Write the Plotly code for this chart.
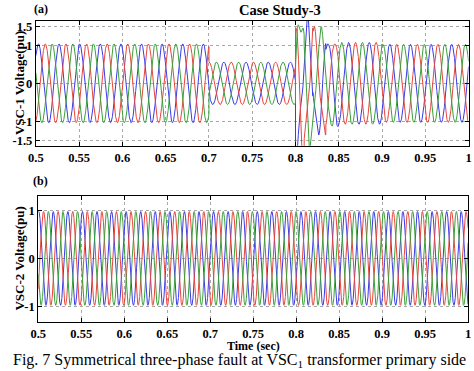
import numpy as np
import plotly.graph_objects as go

# ---------------- data ----------------
# Panel (a): VSC-1 voltage, piecewise segments (start time, amplitude pu, frequency Hz,
# distortion amplitude, phase jump at segment start in rad)
a_seg_start = [0.50, 0.70, 0.80, 0.81, 0.82, 0.835, 0.85, 0.90]
a_seg_amp   = [1.04, 0.56, 1.85, 1.50, 1.30, 1.12, 1.08, 1.03]
a_seg_freq  = [42.0, 39.0, 42.0, 42.0, 42.0, 42.0, 42.0, 42.0]
a_seg_dist  = [0.00, 0.00, 0.50, 0.35, 0.20, 0.08, 0.00, 0.00]
a_seg_jump  = [0.00, 0.35, 1.20, 0.00, 0.00, 0.00, 0.00, 0.00]
a_first_peak = 0.503   # time of first blue peak

# Panel (b): VSC-2 voltage
b_seg_start = [0.50]
b_seg_amp   = [0.975]
b_seg_freq  = [59.0]
b_seg_dist  = [0.0]
b_seg_jump  = [0.0]
b_first_peak = 0.5005

phase_names  = ["Phase A", "Phase B", "Phase C"]
phase_shift  = [0.0, -2 * np.pi / 3, -4 * np.pi / 3]
phase_colors = ["#3b3be6", "#e8453c", "#3aa03a"]

x_ticks = [0.5, 0.55, 0.6, 0.65, 0.7, 0.75, 0.8, 0.85, 0.9, 0.95, 1.0]
x_tick_text = ["0.5", "0.55", "0.6", "0.65", "0.7", "0.75", "0.8", "0.85", "0.9", "0.95", "1"]
ya_ticks = [-1.5, -1, 0, 1, 1.5]
ya_tick_text = ["-1.5", "-1", "0", "1", "1.5"]
yb_ticks = [-1, 0, 1]
yb_tick_text = ["-1", "0", "1"]

t = np.arange(0.5, 1.0 + 1e-9, 0.0001)


def synth(starts, amps, freqs, dists, jumps, first_peak):
    starts = np.array(starts)
    idx = np.searchsorted(starts, t, side="right") - 1
    f = np.array(freqs)[idx]
    dt = np.diff(t, prepend=t[0])
    theta = 2 * np.pi * np.cumsum(f * dt)
    theta += np.cumsum(np.array(jumps))[idx]
    theta += np.pi / 2 - 2 * np.pi * freqs[0] * (first_peak - 0.5)
    amp = np.array(amps)[idx]
    dist = np.array(dists)[idx]
    out = []
    for sh in phase_shift:
        y = amp * np.sin(theta + sh) + dist * np.sin(2.5 * (theta + sh) + 0.7)
        out.append(y)
    return out


ya = synth(a_seg_start, a_seg_amp, a_seg_freq, a_seg_dist, a_seg_jump, a_first_peak)
yb = synth(b_seg_start, b_seg_amp, b_seg_freq, b_seg_dist, b_seg_jump, b_first_peak)

fig = go.Figure()
for name, col, y in zip(phase_names, phase_colors, ya):
    fig.add_trace(go.Scatter(x=t, y=y, mode="lines", name=name, showlegend=False,
                             line=dict(color=col, width=1), xaxis="x", yaxis="y"))
for name, col, y in zip(phase_names, phase_colors, yb):
    fig.add_trace(go.Scatter(x=t, y=y, mode="lines", name=name, showlegend=False,
                             line=dict(color=col, width=1), xaxis="x2", yaxis="y2"))

SERIF = "Liberation Serif, Times New Roman, serif"
tickfont = dict(family=SERIF, size=12.5, color="black", weight="bold")
axis_common = dict(showline=True, linecolor="black", linewidth=1, mirror="ticks",
                   ticks="inside", ticklen=4, tickcolor="black", tickwidth=1,
                   showgrid=True, gridcolor="#a8a8a8", griddash="dot", gridwidth=1,
                   zeroline=False, tickfont=tickfont, ticklabeloverflow="allow")

W, H = 474, 371
def px(x): return x / W
def py(y): return 1 - y / H

fig.update_layout(
    width=W, height=H, margin=dict(l=0, r=0, t=0, b=0),
    paper_bgcolor="white", plot_bgcolor="white",
    xaxis=dict(domain=[px(28.5), px(471.5)], range=[0.5, 1.0], anchor="y",
               tickvals=x_ticks, ticktext=x_tick_text, **axis_common),
    yaxis=dict(domain=[py(146), py(20)], range=[-1.65, 1.65], anchor="x",
               tickvals=ya_ticks, ticktext=ya_tick_text, **axis_common),
    xaxis2=dict(domain=[px(31), px(471)], range=[0.5, 1.0], anchor="y2",
                tickvals=x_ticks, ticktext=x_tick_text, **axis_common),
    yaxis2=dict(domain=[py(324), py(197)], range=[-1.33, 1.29], anchor="x2",
                tickvals=yb_ticks, ticktext=yb_tick_text, **axis_common),
)

ann = [
    dict(text="Case Study-3", x=px(278), y=py(9), size=14.5, bold=True),
    dict(text="(a)", x=px(34), y=py(8), size=12, bold=True),
    dict(text="(b)", x=px(33), y=py(181), size=12, bold=True),
    dict(text="Time (sec)", x=px(251), y=py(348), size=12, bold=True),
    dict(text="Fig. 7 Symmetrical three-phase fault at VSC<sub>1</sub> transformer primary side",
         x=px(237), y=py(362.5), size=16, bold=False),
]
for a in ann:
    fig.add_annotation(text=a["text"], x=a["x"], y=a["y"], xref="paper", yref="paper",
                       showarrow=False, xanchor="center", yanchor="middle",
                       font=dict(family=SERIF, size=a["size"], color="black",
                                 weight="bold" if a["bold"] else "normal"))
for txt, yc in [("VSC-1 Voltage(pu)", 83), ("VSC-2 Voltage(pu)", 260)]:
    fig.add_annotation(text=txt, x=px(12), y=py(yc), xref="paper", yref="paper",
                       showarrow=False, textangle=-90, xanchor="center", yanchor="middle",
                       font=dict(family=SERIF, size=13, color="black", weight="bold"))

fig.write_html("out.html", config={"displayModeBar": False},
               post_script="document.body.style.margin='0';document.body.style.overflow='hidden';")
